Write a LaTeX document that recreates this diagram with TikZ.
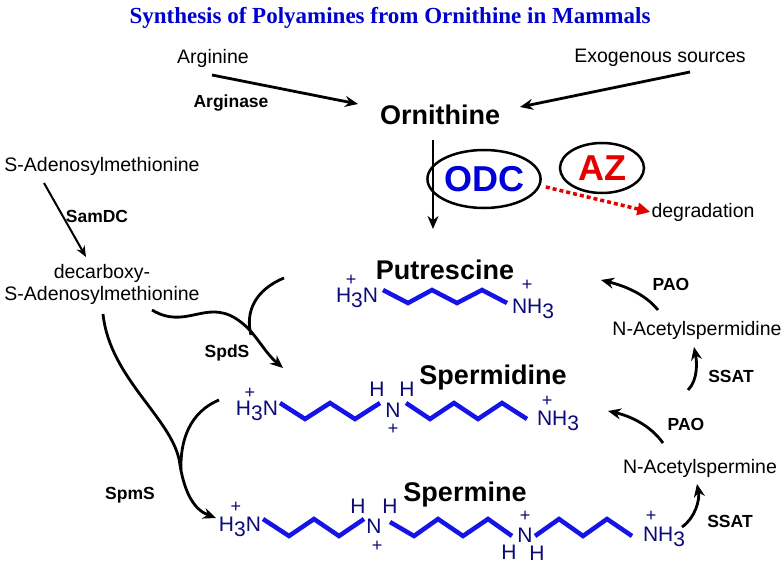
\documentclass[tikz,border=0pt]{standalone}
\usepackage{fontspec}
\setmainfont{Liberation Sans}
\newfontfamily\titlefont{Liberation Serif}
\usetikzlibrary{arrows.meta,shapes.geometric}
\definecolor{navy}{RGB}{10,10,120}
\definecolor{chain}{RGB}{20,20,230}
\newcommand\lowthree{\raisebox{-0.45ex}{3}}
\begin{document}
\begin{tikzpicture}[x=1pt,y=-1pt,
  txt/.style={font=\fontsize{19.5}{22}\selectfont,inner sep=1pt},
  enz/.style={font=\fontsize{17.5}{19}\selectfont\bfseries,inner sep=1pt},
  head/.style={font=\fontsize{27}{30}\selectfont\bfseries,inner sep=1pt},
  chem/.style={font=\fontsize{21}{23}\selectfont,text=navy,inner sep=0pt},
  pl/.style={font=\fontsize{18}{18}\selectfont,text=navy,inner sep=0pt},
  arr/.style={line width=2.8pt,-{Stealth[length=13pt,width=11pt]}},
  carr/.style={line width=2.8pt,-{Stealth[length=13pt,width=11pt]}},
  ch/.style={line width=4.5pt,chain,line join=miter}]
\useasboundingbox (0,0) rectangle (783,564);
\node (title) at (390,18) {\titlefont\fontsize{23}{26}\selectfont\bfseries\color{blue!80!black}Synthesis of Polyamines from Ornithine in Mammals};
\node[txt] (arg) at (213,58) {Arginine};
\node[txt] (exo) at (660,58) {Exogenous sources};
\node[head] (orn) at (440,115) {Ornithine};
\node[enz] (arginase) at (231,103) {Arginase};
\coordinate (a1) at (212,75); \coordinate (a2) at (358,104);
\draw[arr] (a1) -- (a2);
\coordinate (e1) at (690,72); \coordinate (e2) at (520,107);
\draw[arr] (e1) -- (e2);
\node[txt] (sam) at (102,166) {S-Adenosylmethionine};
\node[enz] (samdc) at (97,216) {SamDC};
\coordinate (s1) at (44,183); \coordinate (s2) at (86,257);
\draw[line width=2pt,-{Stealth[length=11pt,width=9pt]}] (s1) -- (s2);
\node[txt,align=center] (dsam) at (102,284) {decarboxy-\\S-Adenosylmethionine};
% ODC / AZ
\node[ellipse,draw,line width=2.5pt,minimum width=90pt,minimum height=58pt,inner sep=0pt,font=\fontsize{36}{38}\selectfont\bfseries,text=blue!85!black] (odc) at (484,179) {ODC};
\node[ellipse,draw,line width=2.5pt,minimum width=84pt,minimum height=50pt,inner sep=0pt,font=\fontsize{36}{38}\selectfont\bfseries,text=red!90!black] (az) at (602,168) {AZ};
\coordinate (o1) at (433,140); \coordinate (o2) at (433,229);
\draw[arr] (o1) -- (o2);
\node[txt] (deg) at (703,212) {degradation};
\draw[red!90!black,line width=3.5pt,dash pattern=on 4pt off 3pt,-{Triangle[length=13pt,width=12pt]}] (odc.east) ++(4,8) -- (deg.west);
% Putrescine
\node[head] (put) at (445,270) {Putrescine};
\node[chem] (pn1) at (357,298) {H\lowthree N};
\node[pl] at (351,280) {+};
\node[chem] (pn2) at (533,309) {NH\lowthree};
\node[pl] at (527,285) {+};
\draw[ch] (383,290) -- (408,303) -- (432,290) -- (457,303) -- (482,290) -- (507,303);
% Spermidine
\node[head] (spd) at (493,378) {Spermidine};
\node[chem] (dn1) at (257,411) {H\lowthree N};
\node[pl] at (250,393) {+};
\node[chem] (dn2) at (393,410) {N};
\node[chem] at (377,389) {H};
\node[chem] at (407,389) {H};
\node[pl] at (393,429) {+};
\node[chem] (dn3) at (558,421) {NH\lowthree};
\node[pl] at (547,401) {+};
\draw[ch] (280,403) -- (305,419) -- (330,403) -- (355,419) -- (380,403);
\draw[ch] (406,403) -- (430,419) -- (454,403) -- (478,419) -- (502,403) -- (527,419);
% Spermine
\node[head] (spm) at (465,495) {Spermine};
\node[chem] (mn1) at (240,527) {H\lowthree N};
\node[pl] at (236,507) {+};
\node[chem] (mn2) at (374,526) {N};
\node[chem] at (358,506) {H};
\node[chem] at (390,506) {H};
\node[pl] at (377,546) {+};
\node[chem] (mn3) at (525,535) {N};
\node[pl] at (525,516) {+};
\node[chem] at (509,552) {H};
\node[chem] at (537,553) {H};
\node[chem] (mn4) at (664,537) {NH\lowthree};
\node[pl] at (651,516) {+};
\draw[ch] (263,519) -- (289,536) -- (314,519) -- (339,536) -- (364,519);
\draw[ch] (390,522) -- (414,536) -- (438,519) -- (463,536) -- (488,519) -- (512,536);
\draw[ch] (535,536) -- (559,519) -- (583,536) -- (607,519) -- (632,536);
% SpdS
\node[enz] (spds) at (227,353) {SpdS};
\coordinate (d1) at (152,310); \coordinate (d2) at (283,368);
\draw[carr] (d1) .. controls (185,330) and (205,300) .. (235,318) .. controls (255,330) and (262,350) .. (d2);
\coordinate (p1) at (284,278);
\draw[line width=2.8pt] (p1) .. controls (255,290) and (245,312) .. (251,335);
% SpmS
\node[enz] (spms) at (130,495) {SpmS};
\coordinate (m1) at (103,314); \coordinate (m2) at (216,518);
\draw[carr] (m1) .. controls (110,380) and (175,420) .. (180,465) .. controls (185,495) and (195,510) .. (m2);
\coordinate (q1) at (219,400);
\draw[line width=2.8pt] (q1) .. controls (190,412) and (180,440) .. (181,470);
% right side
\node[txt] (nas) at (700,468) {N-Acetylspermine};
\node[txt] (nad) at (697,330) {N-Acetylspermidine};
\node[enz] (ssat1) at (730,521) {SSAT};
\node[enz] (pao1) at (686,424) {PAO};
\node[enz] (ssat2) at (731,376) {SSAT};
\node[enz] (pao2) at (671,284) {PAO};
\coordinate (r1) at (682,527); \coordinate (r2) at (697,484);
\draw[carr] (r1) .. controls (695,518) and (700,500) .. (r2);
\coordinate (r3) at (663,443); \coordinate (r4) at (608,411);
\draw[carr] (r3) .. controls (650,425) and (630,416) .. (r4);
\coordinate (r5) at (688,390); \coordinate (r6) at (694,347);
\draw[carr] (r5) .. controls (698,380) and (697,362) .. (r6);
\coordinate (r7) at (658,310); \coordinate (r8) at (601,280);
\draw[carr] (r7) .. controls (645,294) and (625,286) .. (r8);
\end{tikzpicture}
\end{document}
